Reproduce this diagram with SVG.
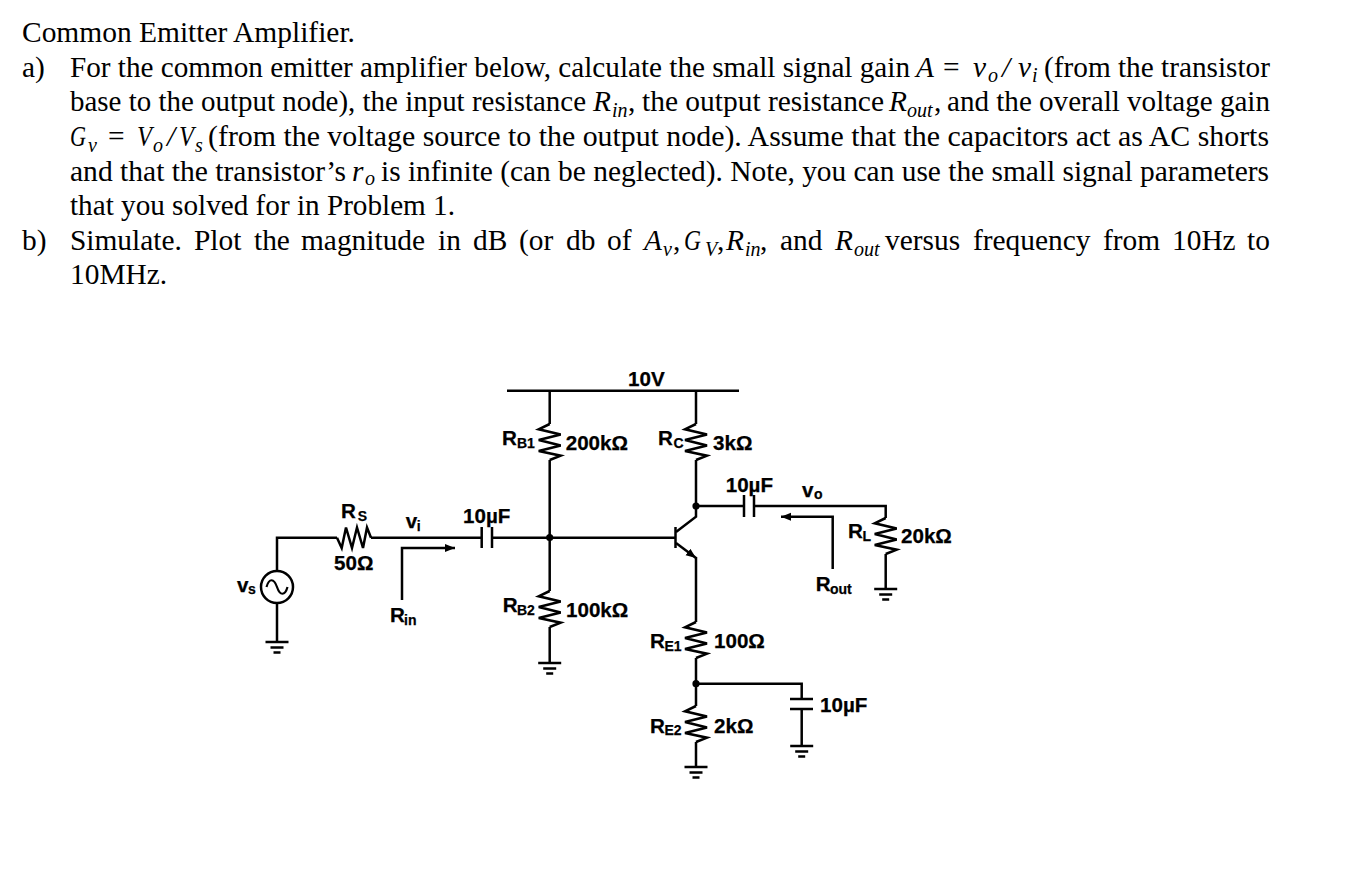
<svg xmlns="http://www.w3.org/2000/svg" width="1351" height="882" viewBox="0 0 1351 882">
<style>
.b{font-family:"Liberation Serif","Times New Roman",serif;font-size:29.4px;fill:#000}
.i{font-style:italic}
.s{font-size:20px}
.l{font-family:"Liberation Sans",Arial,sans-serif;font-weight:bold;font-size:20.6px;fill:#000;stroke:#000;stroke-width:.25}
.u{font-size:14px}
.w{fill:none;stroke:#000;stroke-width:2.5;stroke-linejoin:miter}
.t{fill:none;stroke:#000;stroke-width:2.2}
.d{fill:#000}
</style>
<defs>
<marker id="ah" markerUnits="userSpaceOnUse" markerWidth="11" markerHeight="9" refX="10" refY="4.5" orient="auto"><path d="M0,.5L10,4.5L0,8.5Z" fill="#000"/></marker>
<g id="gnd"><path class="w" d="M-11.5,0H11.5M-6.5,5.5H6.5M-3.5,10.5H3.5"/></g>
<path id="res" class="w" d="M0,0L-11,5.3L11,10.5L-11,16L11,21.5L-11,27L11,31.7L0,36"/>
</defs>
<rect width="1351" height="882" fill="#fff"/>
<g id="problem-text">
<text class="b" x="22" y="42" textLength="333" lengthAdjust="spacingAndGlyphs">Common Emitter Amplifier.</text>
<text class="b" x="22" y="76.7">a)</text>
<text class="b" x="70" y="76.7" textLength="840" lengthAdjust="spacingAndGlyphs">For the common emitter amplifier below, calculate the small signal gain</text>
<text class="b i" x="916" y="76.7">A</text><text class="b" x="943" y="76.7">=</text>
<text class="b i" x="973" y="76.7">v</text><text class="b i s" x="988" y="82">o</text><text class="b i" x="1002" y="76.7">/</text><text class="b i" x="1018" y="76.7">v</text><text class="b i s" x="1032" y="82">i</text>
<text class="b" x="1044" y="76.7" textLength="226" lengthAdjust="spacingAndGlyphs">(from the transistor</text>
<text class="b" x="70" y="111" textLength="516" lengthAdjust="spacingAndGlyphs">base to the output node), the input resistance</text>
<text class="b i" x="593" y="111">R</text><text class="b i s" x="612" y="117">in</text><text class="b" x="628" y="111">,</text>
<text class="b" x="642" y="111" textLength="242" lengthAdjust="spacingAndGlyphs">the output resistance</text>
<text class="b i" x="889" y="111">R</text><text class="b i s" x="907" y="117">out</text><text class="b" x="934" y="111">,</text>
<text class="b" x="947" y="111" textLength="323" lengthAdjust="spacingAndGlyphs">and the overall voltage gain</text>
<text class="b i" x="70" y="146" textLength="16" lengthAdjust="spacingAndGlyphs">G</text><text class="b i s" x="88" y="152">v</text><text class="b" x="108" y="146">=</text>
<text class="b i" x="137" y="146" textLength="15" lengthAdjust="spacingAndGlyphs">V</text><text class="b i s" x="153" y="152">o</text><text class="b i" x="167" y="146">/</text><text class="b i" x="179" y="146" textLength="15" lengthAdjust="spacingAndGlyphs">V</text><text class="b i s" x="195" y="152">s</text>
<text class="b" x="208" y="146" textLength="1061" lengthAdjust="spacingAndGlyphs">(from the voltage source to the output node). Assume that the capacitors act as AC shorts</text>
<text class="b" x="70" y="180.5" textLength="276" lengthAdjust="spacingAndGlyphs">and that the transistor’s</text>
<text class="b i" x="352" y="180.5">r</text><text class="b i s" x="365" y="185">o</text>
<text class="b" x="381" y="180.5" textLength="888" lengthAdjust="spacingAndGlyphs">is infinite (can be neglected). Note, you can use the small signal parameters</text>
<text class="b" x="70" y="214.5" textLength="385" lengthAdjust="spacingAndGlyphs">that you solved for in Problem 1.</text>
<text class="b" x="22" y="250">b)</text>
<text class="b" x="70" y="250">Simulate.</text><text class="b" x="194" y="250">Plot</text><text class="b" x="254" y="250">the</text><text class="b" x="301" y="250">magnitude</text><text class="b" x="438" y="250">in</text><text class="b" x="473" y="250">dB</text><text class="b" x="519" y="250">(or</text><text class="b" x="566" y="250">db</text><text class="b" x="607" y="250">of</text>
<text class="b i" x="644" y="250">A</text><text class="b i s" x="663" y="256">v</text><text class="b" x="673" y="250">,</text>
<text class="b i" x="684" y="250" textLength="17" lengthAdjust="spacingAndGlyphs">G</text><text class="b i s" x="705" y="256">V</text><text class="b" x="717" y="250">,</text>
<text class="b i" x="726" y="250">R</text><text class="b i s" x="745" y="256">in</text><text class="b" x="760" y="250">,</text>
<text class="b" x="780" y="250">and</text>
<text class="b i" x="835" y="250">R</text><text class="b i s" x="854" y="256">out</text>
<text class="b" x="885" y="250">versus</text><text class="b" x="973" y="250">frequency</text><text class="b" x="1103" y="250">from</text><text class="b" x="1172" y="250">10Hz</text><text class="b" x="1247" y="250">to</text>
<text class="b" x="70" y="284">10MHz.</text>
</g>
<g id="connectors">
<path class="w" d="M507,390.7H739"/>
<path class="w" d="M277,571V537.7H337"/>
<path class="w" d="M371,537.7H481.7"/>
<path class="w" d="M492,537.7H675"/>
<path class="w" d="M549.7,390.7V424M549.7,460V591M549.7,627V663"/>
<path class="w" d="M696,390.7V424M696,460V516.7L676,532"/>
<path class="w" d="M696,506H744M754,506H885.7V518M885.7,554V589"/>
<path class="w" d="M676,543L696,558" marker-end="url(#ah)"/>
<path class="w" d="M696,557V622M696,658V706M696,742V767"/>
<path class="w" d="M696,683.7H801.7V699M801.7,709V746"/>
<path class="w" d="M277,603V642"/>
</g>
<g id="arrows">
<path class="w" d="M402,600V548H455" marker-end="url(#ah)"/>
<path class="w" d="M832.7,569V516.7H781" marker-end="url(#ah)"/>
</g>
<g id="Vcc"><text class="l" x="628" y="386">10V</text></g>
<g id="Vs"><circle class="w" cx="277" cy="587" r="16"/><path class="t" d="M266.5,587C269,578 274,578 277,587S285,596 287.5,587"/>
<text class="l" x="237" y="591.7">v</text><text class="l u" x="248" y="594">s</text><use href="#gnd" x="277" y="642"/></g>
<g id="Rs"><path class="w" d="M337,537.7L341.7,548L346,527.5L352,548L357,527.5L363,548L367,527.5L371,537.7"/>
<text class="l" x="341" y="518">R</text><text class="l u" x="357.7" y="520.7">S</text><text class="l" x="334" y="570">50Ω</text></g>
<g id="Vi"><text class="l" x="405.7" y="528">v</text><text class="l u" x="416.7" y="530.7">i</text></g>
<g id="Rin"><text class="l" x="390" y="622">R</text><text class="l u" x="404" y="625">in</text></g>
<g id="C1"><path class="w" d="M481.7,527V548M492,527V548"/><text class="l" x="463" y="523">10µF</text></g>
<g id="RB1"><use href="#res" x="549.7" y="424"/>
<text class="l" x="502" y="445">R</text><text class="l u" x="517" y="447.5">B1</text><text class="l" x="565.7" y="450">200kΩ</text></g>
<g id="RB2"><use href="#res" x="549.7" y="591"/>
<text class="l" x="502.7" y="612">R</text><text class="l u" x="517" y="615">B2</text><text class="l" x="566" y="617">100kΩ</text><use href="#gnd" x="549.7" y="663"/></g>
<g id="RC"><use href="#res" x="696" y="424"/>
<text class="l" x="658" y="445">R</text><text class="l u" x="673.5" y="447.5">C</text><text class="l" x="713" y="450">3kΩ</text></g>
<g id="Q1"><path class="w" d="M675.5,527V548" stroke-width="3"/><circle class="d" cx="696" cy="506" r="3.6"/><circle class="d" cx="549.7" cy="537.5" r="3.6"/></g>
<g id="C2"><path class="w" d="M744,495V517M754,495V517"/><text class="l" x="725.7" y="492">10µF</text></g>
<g id="Vo"><text class="l" x="802" y="496.7">v</text><text class="l u" x="814" y="499">o</text></g>
<g id="Rout"><text class="l" x="815.7" y="591">R</text><text class="l u" x="830" y="594">out</text></g>
<g id="RL"><use href="#res" x="885.7" y="518"/>
<text class="l" x="848" y="538">R</text><text class="l u" x="862.5" y="541">L</text><text class="l" x="901" y="543">20kΩ</text><use href="#gnd" x="885.7" y="589"/></g>
<g id="RE1"><use href="#res" x="696" y="622"/>
<text class="l" x="650" y="648">R</text><text class="l u" x="664.5" y="650.7">E1</text><text class="l" x="714" y="648">100Ω</text><circle class="d" cx="696" cy="683.7" r="3.6"/></g>
<g id="RE2"><use href="#res" x="696" y="706"/>
<text class="l" x="650" y="732.7">R</text><text class="l u" x="664.5" y="735">E2</text><text class="l" x="714" y="733">2kΩ</text><use href="#gnd" x="696" y="767"/></g>
<g id="C3"><path class="w" d="M790,699H813M790,709H813"/><text class="l" x="820" y="711.7">10µF</text><use href="#gnd" x="801.7" y="746"/></g>
</svg>
